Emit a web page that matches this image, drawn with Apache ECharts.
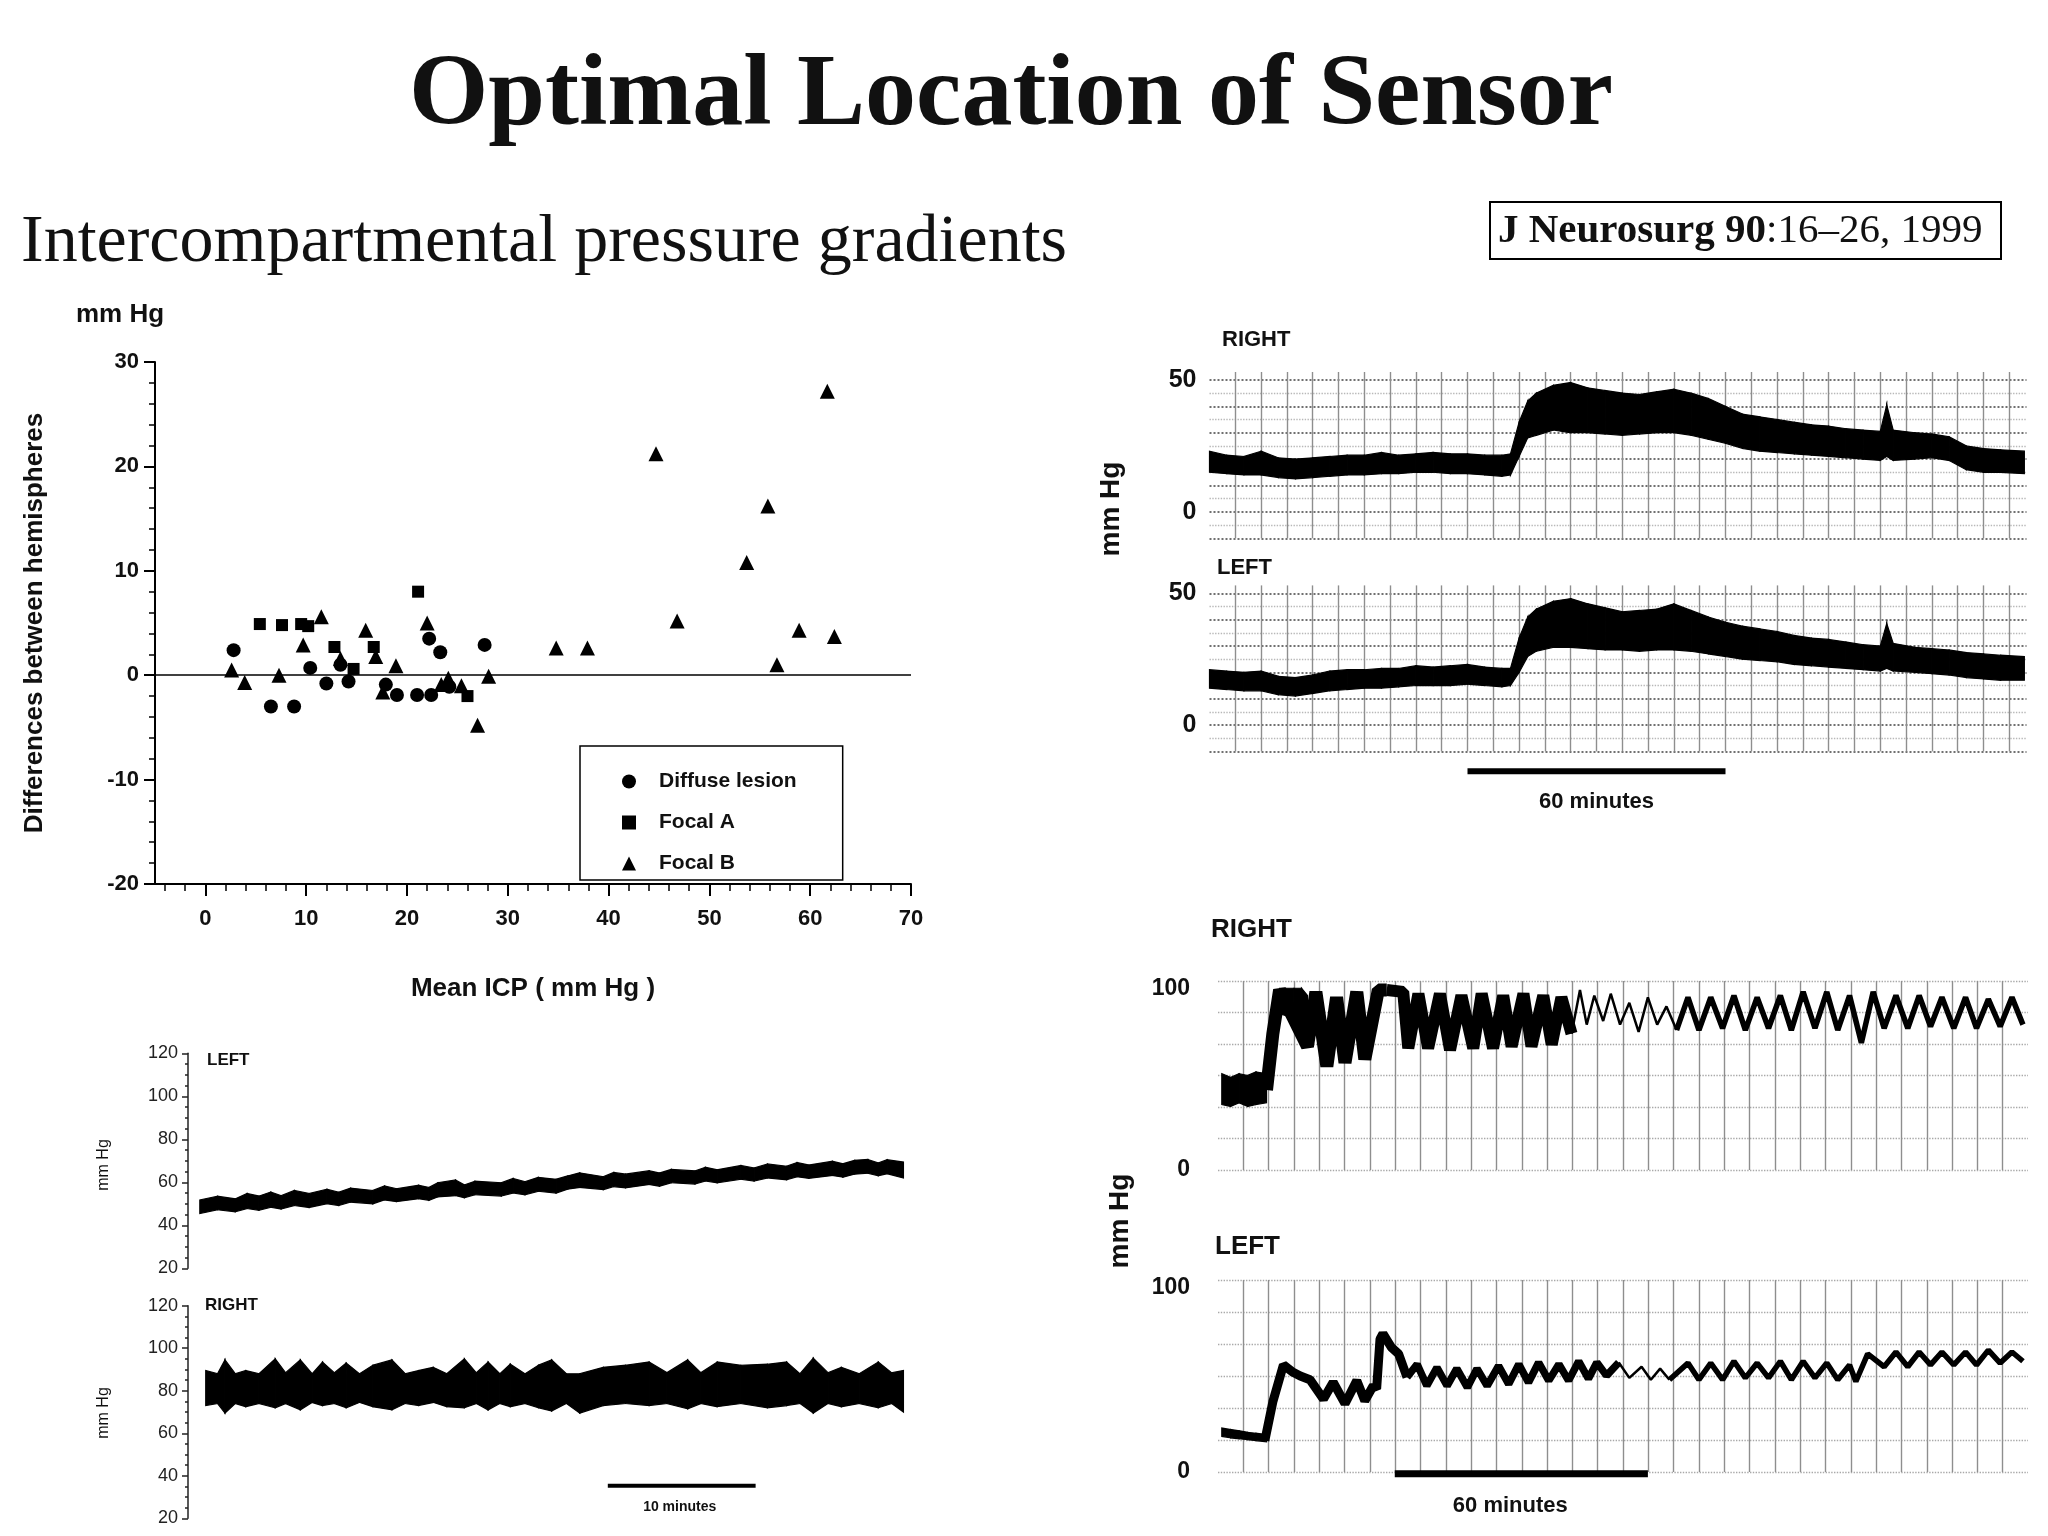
<!DOCTYPE html>
<html>
<head>
<meta charset="utf-8">
<style>html,body{margin:0;background:#fff}#c{width:2048px;height:1536px}</style>
</head>
<body>
<div id="c"></div>
<script src="https://cdn.jsdelivr.net/npm/echarts@6.0.0/dist/echarts.min.js"></script>
<script>
// ---- scatter: mean ICP vs difference between hemispheres (mm Hg)
var diffuse = [[2.8,2.4],[6.5,-3.0],[8.8,-3.0],[10.4,0.7],[12.0,-0.8],[13.4,1.0],[14.2,-0.6],[17.9,-0.9],[19.0,-1.9],[21.0,-1.9],[22.4,-1.9],[22.2,3.5],[23.3,2.2],[24.2,-1.1],[27.7,2.9]];
var focalA = [[5.4,4.9],[7.6,4.8],[9.5,4.9],[10.2,4.7],[12.8,2.7],[14.7,0.6],[16.7,2.7],[21.1,8.0],[26.0,-2.0]];
var focalB = [[2.6,0.5],[3.9,-0.7],[7.3,0.0],[9.7,2.9],[11.5,5.6],[13.4,1.6],[15.9,4.3],[16.9,1.8],[17.6,-1.6],[18.9,0.9],[22.0,5.0],[23.4,-0.9],[24.1,-0.3],[25.4,-1.0],[27.0,-4.8],[28.1,-0.1],[34.8,2.6],[37.9,2.6],[44.7,21.2],[46.8,5.2],[53.7,10.8],[55.8,16.2],[56.7,1.0],[58.9,4.3],[61.7,27.2],[62.4,3.7]];
var icpMajor = [0,10,20,30,40,50,60,70];
var icpMinor = [-4,-2,2,4,6,8,12,14,16,18,22,24,26,28,32,34,36,38,42,44,46,48,52,54,56,58,62,64,66,68];

// ---- upper right recordings: time (min), envelope of the trace (mm Hg)
var trTime = [0,4,8,12,16,20,24,28,32,36,40,44,48,52,56,60,64,68,70,72,74,76,80,84,88,92,96,100,104,108,112,116,120,124,128,132,136,140,144,148,152,156,157.5,159,164,168,172,176,180,184,189.5];
var trRightHi = [23,21.5,21,23,20.5,20,20.5,21,21.5,21.5,22.5,21.5,22,22.5,22,22,21.5,21.5,22,34,42,45,48,49,47,46,45,44.5,45.5,46.5,45,43,40,37,36,35,34,33,32.5,31.5,31,30.5,40.5,31,30,29.5,28.5,25,24,23.5,23];
var trRightLo = [15,14.5,14,14,13,12.5,13,13.5,14,14,14.5,14.5,15,15,14.5,14.5,14,13.5,14,21,28,29,31,30,30,29.5,29,29.5,30,30,29,27.5,26,24,23,22.5,22,21.5,21,20.5,20,19.5,21,19.5,20,20.5,19.5,16,15,15,14.5];
var trLeftHi = [21,20.5,20,20.5,18.5,18,19,20.5,21,21,21.5,21.5,22.5,22,22.5,23,22,21.5,21.5,33,41,44,47,48,46,44.5,43,43.5,44,46,43.5,41,39,37.5,36.5,35.5,34,33,32.5,31.5,30.5,30,38.5,31,29.5,29,28.5,27.5,27,26.5,26];
var trLeftLo = [14,13.5,13,13,11.5,11,12,13,13.5,14,14,14.5,15,15,15,15.5,15,14.5,15,20,26,28,29.5,29.5,29,28.5,28.5,28,28.5,28.5,28,27,26,25,24.5,24,23,22.5,22,21.5,21,20.5,21.5,20.5,20,19.5,19,18,17.5,17,17];

// ---- lower left recordings
var blLeftTime = [0.2,1.4,2.6,3.4,4.2,5.0,5.7,6.6,7.6,8.8,9.6,10.4,11.9,12.7,13.5,15.0,15.7,16.3,17.5,18.1,18.8,20.6,21.4,22.2,23.1,24.3,25.1,25.9,27.5,28.2,29.0,30.6,31.3,32.1,33.7,34.4,35.2,36.8,37.7,38.6,39.9,40.6,41.4,43.0,43.7,44.5,45.4,46.1,46.7,47.8];
var blLeftHi = [51.8,53.5,52.3,54.8,53.6,55.5,53.8,56.2,54.8,56.8,55.4,57.3,56.2,58.3,57,58.6,57.6,59.8,61.1,58.8,60.5,59.8,61.8,60.3,62.3,61.4,63,64.4,62.6,64.6,63.8,65.4,64.3,66,65.3,67,65.8,67.8,66.7,68.5,67.5,69.2,68,69.8,68.6,70.2,70.6,69,70.5,69.4];
var blLeftLo = [45.5,47.2,46.3,47.8,47,48.4,47.6,49.2,48.3,50,49.2,50.8,50,51.8,51,52.4,51.6,53.2,53.8,52.8,54.2,53.6,55,54.2,55.8,55,56.8,57.6,56.6,58,57.4,59,58.2,59.8,59.2,60.6,59.8,61.4,60.6,62,61.2,62.6,61.8,63.2,62.4,63.8,64.2,63,64,62];
var blRightTime = [0.6,1.4,1.9,2.6,3.3,4.2,5.3,6.0,7.0,7.8,8.5,9.3,10.1,11.0,11.9,13.2,14.1,15.0,16.0,16.9,18.1,18.9,19.7,20.5,21.2,22.2,23.1,24.0,25.0,25.9,27.5,29.0,30.6,31.8,33.2,34.1,35.2,36.8,38.6,39.9,40.8,41.7,42.7,43.6,44.8,46.1,47.0,47.8];
var blRightHi = [89.5,88,94.5,88,89.5,88,95,88.5,94.5,88,93.5,88.5,93,88,92,94.5,88,89.5,91,88,95,88.5,93.5,88,92.5,88,92,94.5,88,88,91,92,93.5,88.5,94.5,88.5,93.5,92,92.5,93.5,88,95.3,88.5,91,88,93.5,88.5,89.5];
var blRightLo = [73,74,69.5,74,72.5,74,72,74,71,74.5,73,74,72,74.5,72.5,71,74,73,74.5,72.5,72,74,71,74,72.5,74,72,70.5,74,69.5,73,74,73,74,71.5,74,72.5,74,72,73,74,69.5,74,72.5,74,72,74,70];

// ---- lower right recordings
var brBaseTime = [0.9,3,5,7,9,11.5];
var brRightBaseHi = [53,51,53,52,54,53];
var brRightBaseLo = [36,35,37,35,36,37];
var brLeftBaseHi = [23.8,23,22.3,21.5,21,20.3];
var brLeftBaseLo = [19.3,18.5,18,17.5,17,16.4];
var brCapTime = [14.6,16,18,19.8,21.2];
var brRightCapHi = [100,100,100,100,96];
var brRightCapLo = [86,85,84,78,70];
var brRight = [[11.5,44],[13,75],[14.6,99],[21.2,68],[23.2,98],[25.8,57],[28.1,95],[30.1,59],[32.9,98],[34.8,61],[38,99],[40,99],[43.9,98],[45.1,67],[47.5,97],[49.8,67],[52.6,97],[55,66],[57.7,96],[60.5,67],[62.5,97],[65.2,67],[67.6,96],[69.6,68],[72.4,97],[74.3,68],[77.1,96],[79.1,69],[81.4,95],[83.8,75],[85.8,99],[87.4,80],[89.2,96],[91.3,82],[93.1,97],[95.3,80],[97.5,92],[99.7,76],[101.9,95],[104.1,80],[106.3,90],[108.7,77],[111.4,95],[114,77],[116.8,95],[119.6,78],[122.3,96],[125,77],[127.8,95],[130.5,78],[133.3,96],[135.9,77],[138.7,98],[141.5,78],[144.3,98],[146.9,77],[149.7,96],[152.5,70],[155.3,98],[157.9,78],[160.7,96],[163.5,78],[166.2,96],[168.9,79],[171.6,95],[174.4,78],[177.2,95],[179.8,78],[182.6,94],[185.4,79],[188.2,95],[190.8,80]];
var brLeft = [[11.1,17],[13,38],[15.5,58],[17.8,54],[19.5,52],[21.8,50],[25,39.5],[27.3,48.6],[30.1,37],[32.9,49.5],[34.8,38.6],[36.8,46.7],[37.6,45],[38.4,72],[39.1,75],[41.1,67.5],[42.8,64],[44.8,51.3],[47.2,58.4],[49.5,46.7],[51.9,56.6],[54.3,46.7],[56.6,56],[59.1,45.8],[61.4,56],[63.8,46.7],[66.5,57.5],[68.9,47.6],[71.3,58.4],[73.6,48.5],[76,59.3],[78.4,49.5],[80.8,58.4],[83.1,49.5],[85.5,60],[87.8,50.5],[89.8,59.3],[92.1,52.2],[95,59.3],[97.5,51],[100.4,57],[102.6,50],[104.8,56],[107,50],[111.4,59],[114,50],[116.8,59],[119.6,50],[122.3,60],[125,51],[127.8,59],[130.5,51],[133.3,60],[135.9,50],[138.7,60],[141.5,51],[144.3,59],[146.9,50],[149.7,58],[151.2,49],[154,64],[157.9,57],[160.7,65],[163.5,57],[166.2,65],[168.9,58],[171.6,65],[174.4,58],[177.2,65],[179.8,58],[182.6,66],[185.4,59],[188.2,65],[190.8,60]];

// pen width per stretch of the lower right traces [from, to, width]
var brRightPen = [[0,40,13],[40,83.8,12],[83.8,108.7,2.5],[108.7,192,5.5]];
var brLeftPen = [[0,44.8,9],[44.8,95,7.5],[95,107,2.5],[107,192,5.5]];

var SANS = '"Liberation Sans", Arial, sans-serif';
var SERIF = '"Liberation Serif", "Times New Roman", serif';

var chart = echarts.init(document.getElementById('c'));

// filled envelope of a noisy trace, one quad per pair of samples
function band(xi, yi, t, lo, hi) {
  var items = t.slice(0, -1).map(function (x, i) {
    return [x, lo[i], hi[i], t[i + 1], lo[i + 1], hi[i + 1]];
  });
  return {
    type:'custom', xAxisIndex:xi, yAxisIndex:yi, silent:true, data:items,
    encode:{x:[0, 3], y:[1, 2, 4, 5]},
    renderItem:function (params, api) {
      var a = api.coord([api.value(0), api.value(1)]);
      var b = api.coord([api.value(0), api.value(2)]);
      var c = api.coord([api.value(3), api.value(5)]);
      var d = api.coord([api.value(3), api.value(4)]);
      return {type:'polygon', shape:{points:[a, b, c, d]},
        style:{fill:'#000', stroke:'#000', lineWidth:1.2}};
    }
  };
}

function pen(xi, yi, pts, segs) {
  return segs.map(function (s) {
    return {type:'line', xAxisIndex:xi, yAxisIndex:yi, symbol:'none', silent:true,
      data:pts.filter(function (p) { return p[0] >= s[0] && p[0] <= s[1]; }),
      lineStyle:{color:'#000', width:s[2], join:'bevel'}};
  });
}

var paperV = {show:true, showMinLine:false, showMaxLine:false, lineStyle:{color:'#8e8e8e', width:1.4}};
function paperX(grid, max) {
  return {type:'value', gridIndex:grid, min:0, max:max, interval:6,
    axisLine:{show:false}, axisTick:{show:false}, axisLabel:{show:false}, splitLine:paperV};
}
function trY(grid) {
  return {type:'value', gridIndex:grid, min:-10, max:53, interval:10,
    axisLine:{show:false}, axisTick:{show:false},
    axisLabel:{formatter:function (v) { return (v === 0 || v === 50) ? String(v) : ''; },
      fontFamily:SANS, fontWeight:'bold', fontSize:25, color:'#111', margin:13},
    splitLine:{show:true, showMaxLine:false, lineStyle:{color:'#707070', width:2, type:'dotted'}},
    minorTick:{show:false, splitNumber:2},
    minorSplitLine:{show:true, lineStyle:{color:'#b8b8b8', width:1.4, type:'dotted'}}};
}
function blY(grid) {
  var st = {color:'#222', width:1.5};
  return {type:'value', gridIndex:grid, min:20, max:120, interval:20,
    axisLine:{show:true, onZero:false, lineStyle:st}, axisTick:{show:true, length:6, lineStyle:st},
    minorTick:{show:true, splitNumber:4, length:3, lineStyle:st},
    axisLabel:{fontFamily:SANS, fontSize:18, color:'#222', margin:10},
    splitLine:{show:false}};
}
function blX(grid) {
  return {type:'value', gridIndex:grid, min:-0.6, max:48, show:false, splitLine:{show:false}};
}
function brY(grid) {
  return {type:'value', gridIndex:grid, min:0, max:104, interval:100,
    axisLine:{show:false}, axisTick:{show:false}, splitLine:{show:false},
    axisLabel:{formatter:function (v) { return (v === 0 || v === 100) ? String(v) : ''; },
      fontFamily:SANS, fontWeight:'bold', fontSize:23, color:'#111', margin:28}};
}
function brPaperY(grid) {
  return {type:'value', gridIndex:grid, min:0, max:6, interval:1, position:'left',
    axisLine:{show:false}, axisTick:{show:false}, axisLabel:{show:false},
    splitLine:{show:true, lineStyle:{color:'#a9a9a9', width:1.4, type:'dotted'}}};
}

var axisBlack = {color:'#000', width:2};

var option = {
  animation:false,
  backgroundColor:'#fff',
  grid:[
    {left:155, top:362, width:756, height:522},
    {left:1209.5, top:372, width:817, height:166.3},
    {left:1209.5, top:585.4, width:817, height:166},
    {left:188, top:1053.3, width:718.4, height:215},
    {left:188, top:1305.7, width:718.4, height:212.6},
    {left:1218, top:981, width:810, height:189},
    {left:1218, top:1280, width:810, height:192}
  ].map(function (g) { g.containLabel = false; g.outerBoundsMode = 'none'; return g; }),
  legend:{
    left:580, top:746, orient:'vertical', itemWidth:14, itemHeight:14, itemGap:20,
    padding:[25, 46, 6, 42], borderColor:'#000', borderWidth:1.5,
    textStyle:{fontFamily:SANS, fontWeight:'bold', fontSize:21, color:'#111', padding:[0, 0, 0, 18]},
    data:[{name:'Diffuse lesion', icon:'circle'}, {name:'Focal A', icon:'rect'}, {name:'Focal B', icon:'triangle'}]
  },
  xAxis:[
    {type:'value', gridIndex:0, position:'bottom', min:-5, max:70,
      name:'Mean ICP ( mm Hg )', nameLocation:'middle', nameGap:92,
      nameTextStyle:{fontFamily:SANS, fontWeight:'bold', fontSize:26, color:'#111'},
      axisLine:{show:true, onZero:false, lineStyle:axisBlack},
      axisTick:{show:true, customValues:icpMajor, length:12, lineStyle:axisBlack},
      axisLabel:{customValues:icpMajor, fontFamily:SANS, fontWeight:'bold', fontSize:22, color:'#111', margin:24},
      splitLine:{show:false}},
    {type:'value', gridIndex:0, position:'bottom', min:-5, max:70,
      axisLine:{show:false, onZero:false},
      axisTick:{show:true, customValues:icpMinor, length:7, lineStyle:{color:'#000', width:1.5}},
      axisLabel:{show:false}, splitLine:{show:false}},
    paperX(1, 190), paperX(2, 190),
    blX(3), blX(4),
    paperX(5, 192), paperX(6, 192)
  ],
  yAxis:[
    {type:'value', gridIndex:0, min:-20, max:30, interval:10,
      name:'Differences between hemispheres', nameLocation:'middle', nameGap:107, nameRotate:90,
      nameTextStyle:{fontFamily:SANS, fontWeight:'bold', fontSize:26, color:'#111'},
      axisLine:{show:true, onZero:false, lineStyle:axisBlack},
      axisTick:{show:true, length:11, lineStyle:axisBlack},
      minorTick:{show:true, splitNumber:5, length:6, lineStyle:{color:'#000', width:1.5}},
      axisLabel:{fontFamily:SANS, fontWeight:'bold', fontSize:22, color:'#111', margin:16},
      splitLine:{show:false}},
    trY(1), trY(2),
    blY(3), blY(4),
    brY(5), brPaperY(5),
    brY(6), brPaperY(6)
  ],
  series:[
    {name:'Diffuse lesion', type:'scatter', xAxisIndex:0, yAxisIndex:0, symbol:'circle', symbolSize:14,
      itemStyle:{color:'#000', opacity:1}, data:diffuse,
      markLine:{silent:true, symbol:['none', 'none'], label:{show:false},
        lineStyle:{color:'#000', width:1.6, type:'solid'}, data:[{yAxis:0}]}},
    {name:'Focal A', type:'scatter', xAxisIndex:0, yAxisIndex:0, symbol:'rect', symbolSize:12,
      itemStyle:{color:'#000', opacity:1}, data:focalA},
    {name:'Focal B', type:'scatter', xAxisIndex:0, yAxisIndex:0, symbol:'triangle', symbolSize:15,
      itemStyle:{color:'#000', opacity:1}, data:focalB},
    band(2, 1, trTime, trRightLo, trRightHi),
    band(3, 2, trTime, trLeftLo, trLeftHi),
    band(4, 3, blLeftTime, blLeftLo, blLeftHi),
    band(5, 4, blRightTime, blRightLo, blRightHi),
    band(6, 5, brBaseTime, brRightBaseLo, brRightBaseHi),
    band(6, 5, brCapTime, brRightCapLo, brRightCapHi),
    band(7, 7, brBaseTime, brLeftBaseLo, brLeftBaseHi)
  ]
    .concat(pen(6, 5, brRight, brRightPen))
    .concat(pen(7, 7, brLeft, brLeftPen))
};

chart.setOption(option);

// time scale bars, placed through the strip axes
var scaleBars = [
  {xi:3, yi:2, from:60, to:120, at:-17.5, w:6, text:'60 minutes', dx:0, dy:31, size:22},
  {xi:5, yi:4, from:27.8, to:37.8, at:35.3, w:4, text:'10 minutes', dx:-2, dy:21, size:14},
  {xi:7, yi:7, from:41.9, to:101.9, at:-1, w:7, text:'60 minutes', dx:-11, dy:32, size:22}
];

function txt(x, y, s, font, align, rot) {
  return {type:'text', x:x, y:y, rotation:rot || 0, silent:true,
    style:{text:s, font:font, fill:'#111', align:align || 'left', verticalAlign:'middle'}};
}

var g = [
  txt(1011, 98, 'Optimal Location of Sensor', 'bold 102px ' + SERIF, 'center'),
  txt(21, 243, 'Intercompartmental pressure gradients', '68px ' + SERIF),
  {type:'rect', shape:{x:1490, y:202, width:511, height:57}, silent:true,
    style:{fill:'#fff', stroke:'#000', lineWidth:2}},
  {type:'text', x:1498, y:231, silent:true,
    style:{text:'{b|J Neurosurg 90}{r|:16\u201326, 1999}', verticalAlign:'middle', fill:'#111',
      rich:{b:{font:'bold 41px ' + SERIF, fill:'#111'}, r:{font:'41px ' + SERIF, fill:'#111'}}}},
  txt(76, 315, 'mm Hg', 'bold 26px ' + SANS),
  txt(1222, 340, 'RIGHT', 'bold 22px ' + SANS),
  txt(1217, 568, 'LEFT', 'bold 22px ' + SANS),
  txt(1111, 509, 'mm Hg', 'bold 28px ' + SANS, 'center', Math.PI / 2),
  txt(207, 1060, 'LEFT', 'bold 17px ' + SANS),
  txt(205, 1305, 'RIGHT', 'bold 17px ' + SANS),
  txt(104, 1165, 'mm Hg', '16px ' + SANS, 'center', Math.PI / 2),
  txt(104, 1413, 'mm Hg', '16px ' + SANS, 'center', Math.PI / 2),
  txt(1211, 930, 'RIGHT', 'bold 26px ' + SANS),
  txt(1215, 1247, 'LEFT', 'bold 26px ' + SANS),
  txt(1120, 1221, 'mm Hg', 'bold 28px ' + SANS, 'center', Math.PI / 2)
];

scaleBars.forEach(function (b) {
  var p0 = chart.convertToPixel({xAxisIndex:b.xi, yAxisIndex:b.yi}, [b.from, b.at]);
  var p1 = chart.convertToPixel({xAxisIndex:b.xi, yAxisIndex:b.yi}, [b.to, b.at]);
  g.push({type:'line', silent:true, shape:{x1:p0[0], y1:p0[1], x2:p1[0], y2:p1[1]},
    style:{stroke:'#000', lineWidth:b.w}});
  g.push(txt((p0[0] + p1[0]) / 2 + b.dx, p0[1] + b.dy, b.text, 'bold ' + b.size + 'px ' + SANS, 'center'));
});

chart.setOption({graphic:g});
</script>
</body>
</html>
